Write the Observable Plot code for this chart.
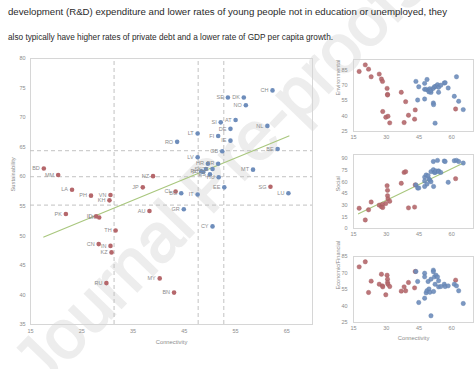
<!DOCTYPE html>
<html>
<head>
<meta charset="utf-8">
<script src="https://cdn.jsdelivr.net/npm/d3@7"></script>
<script src="https://cdn.jsdelivr.net/npm/@observablehq/plot@0.6"></script>
<style>
  html, body { margin: 0; padding: 0; background: #fff; }
  #root { position: relative; width: 474px; height: 369px; overflow: hidden; font-family: "Liberation Sans", Arial, sans-serif; }
  .abs { position: absolute; }
</style>
</head>
<body>
<div id="root"></div>
<script>
// ---------- data ----------
const titleLines = [
  "development (R&D) expenditure and lower rates of young people not in education or unemployed, they",
  "also typically have higher rates of private debt and a lower rate of GDP per capita growth."
];
const watermark = "Journal Pre-proofs";

const codes = ["BD","MM","PK","LA","PH","ID","CN","LK","RU","KH","VN","IN","KZ","TH","JP","AU","NZ","MY","BN","CL","SG",
  "RO","BG","GR","LT","LV","IT","PL","PT","SK","HR","ES","CY","CZ","FI","HU","FR","SI","GB","EE","SE","DE","IE","AT","DK","NO","MT","NL","CH","BE","LU"];
const groupOf = codes.map((c, i) => i < 21 ? "red" : "blue");

const connectivity = [17.6,20.4,21.9,23.1,26.8,27.8,28.3,28.4,29.8,30.4,30.6,30.6,30.8,31.6,36.9,38.2,38.9,40.2,43.0,43.3,61.8,
  43.6,44.4,44.9,47.6,47.6,47.6,48.3,48.7,49.2,49.6,50.0,50.5,50.5,51.6,51.7,51.6,52.1,52.4,52.8,53.5,54.0,54.0,55.0,56.6,57.0,58.4,61.2,62.2,63.2,65.3];
const sustainability = [61.4,60.3,53.7,57.8,56.8,53.3,48.6,53.1,42.0,56.0,56.9,48.3,47.2,50.9,58.2,54.2,60.1,42.8,40.4,57.5,58.3,
  65.9,57.2,54.5,67.3,63.3,57.0,60.9,60.8,61.3,62.2,60.4,51.6,61.3,66.9,59.9,62.2,69.2,64.3,58.2,73.4,68.1,66.1,69.6,73.4,72.1,61.2,68.6,74.6,64.7,57.2];
const environmental = [83.4,89.8,85.6,78.2,80.8,76.0,73.7,44.4,38.9,66.9,61.1,60.5,39.8,33.4,63.1,33.7,54.0,40.8,37.0,46.0,46.9,
  73.7,55.6,68.5,71.8,66.0,56.6,66.0,75.6,65.0,63.5,66.5,63.0,65.0,52.7,51.1,67.0,68.5,33.1,69.0,70.5,63.1,68.0,70.0,72.1,72.5,67.3,59.2,78.2,54.4,46.3];
const social = [26,11,24,34,30,28,31,27,32,55,49,42,38,35,58,72,73,26.5,27.5,56,64,
  56,52,52,66,54,61,68.7,57,67.8,63.5,62,60,73,86,54,75.5,72,72,74,87.4,74,73,72,86.6,86,59.3,87,87.5,86,84];
const economic = [75.6,80.2,52.3,62.6,59.8,68.9,58.3,57.4,50.2,68,64.4,61.4,59.8,57.7,53.5,57.4,53.8,61.4,56.5,71.4,63.5,
  71.4,62.3,43.2,69.8,66.5,47.1,52,54,62.3,55.5,52.5,31.1,64.4,72.6,53.2,71.1,66.5,59.8,68,66.5,62.9,57.4,57.7,59.8,57.7,58.3,59.8,58.3,53.8,42.3];

// reference lines and trend lines
const vLines = [31.3, 47.7, 52.7];
const hLines = [64.4, 60.0, 55.2];
const trendMainX = [17.6, 65.4], trendMainY = [49.8, 66.9];
const trendSocialX = [17.3, 65.4], trendSocialY = [18.8, 84.0];

const mainXTicks = [15,25,35,45,55,65];
const mainYTicks = [35,40,45,50,55,60,65,70,75,80];
const smallXTicks = [15,30,45,60];
const envTicks = [25,40,55,70,85];
const socTicks = [0,15,30,45,60,75,90];
const ecoTicks = [25,40,55,70,85];

// ---------- build ----------
const colors = {red: "#b5676b", blue: "#6e8dbb"};
const rows = codes.map((c, i) => ({code: c, g: groupOf[i], x: connectivity[i], s: sustainability[i],
  env: environmental[i], soc: social[i], eco: economic[i]}));
const trendMain = trendMainX.map((x, i) => ({x, y: trendMainY[i]}));
const trendSocial = trendSocialX.map((x, i) => ({x, y: trendSocialY[i]}));

const root = document.getElementById("root");
const FONT = "Liberation Sans, Arial, sans-serif";
const GRAY = "#8c8c8c";

// watermark (drawn underneath)
const ns = "http://www.w3.org/2000/svg";
const wm = document.createElementNS(ns, "svg");
wm.setAttribute("width", 474); wm.setAttribute("height", 369);
wm.setAttribute("class", "abs"); wm.style.left = "0px"; wm.style.top = "0px";
const wt = document.createElementNS(ns, "text");
wt.setAttribute("transform", "translate(42,390) rotate(-46)");
wt.setAttribute("font-family", FONT); wt.setAttribute("font-size", "68");
wt.setAttribute("fill", "#ededed"); wt.setAttribute("stroke", "#ededed"); wt.setAttribute("stroke-width", "2");
wt.textContent = watermark;
wm.appendChild(wt);
root.appendChild(wm);

// title lines
const tsvg = document.createElementNS(ns, "svg");
tsvg.setAttribute("width", 474); tsvg.setAttribute("height", 48);
tsvg.setAttribute("class", "abs"); tsvg.style.left = "0px"; tsvg.style.top = "0px";
[[14.5, 439], [39.5, 325]].forEach(([y, len], i) => {
  const t = document.createElementNS(ns, "text");
  t.setAttribute("x", 8); t.setAttribute("y", y);
  t.setAttribute("font-family", FONT); t.setAttribute("font-size", "9.6");
  t.setAttribute("fill", "#2a2a2a");
  t.setAttribute("textLength", len); t.setAttribute("lengthAdjust", "spacingAndGlyphs");
  t.textContent = titleLines[i];
  tsvg.appendChild(t);
});
root.appendChild(tsvg);

function place(el, left, top) {
  el.classList.add("abs");
  el.style.left = left + "px"; el.style.top = top + "px";
  root.appendChild(el);
}

const baseStyle = {fontFamily: FONT, fontSize: "5.5px", color: GRAY, background: "transparent", overflow: "visible"};

// main chart
const main = Plot.plot({
  width: 320, height: 369,
  marginLeft: 30, marginRight: 8, marginTop: 58, marginBottom: 45,
  style: {...baseStyle, overflow: "hidden"},
  x: {domain: [15, 70]},
  y: {domain: [35, 80]},
  marks: [
    Plot.frame({stroke: "#d6d6d6"}),
    Plot.ruleX(vLines, {y1: 35, y2: 80, stroke: "#c2c2c2", strokeDasharray: "4,3", strokeWidth: 1}),
    Plot.ruleY(hLines, {x1: 15, x2: 70, stroke: "#c2c2c2", strokeDasharray: "4,3", strokeWidth: 1}),
    Plot.line(trendMain, {x: "x", y: "y", stroke: "#a9c77e", strokeWidth: 1.2}),
    Plot.dot(rows, {x: "x", y: "s", r: 2.3, fill: d => colors[d.g], stroke: "none"}),
    Plot.text(rows, {x: "x", y: "s", text: "code", textAnchor: "end", dx: -4, fill: GRAY, fontSize: 5.5}),
    Plot.axisX(mainXTicks, {tickSize: 0, tickPadding: 5, label: null, fill: GRAY}),
    Plot.axisY(mainYTicks, {tickSize: 0, tickPadding: 5, label: null, fill: GRAY}),
    Plot.text(["Connectivity"], {frameAnchor: "bottom", dy: 19, fill: GRAY, fontSize: 5.8}),
    Plot.text(["Sustainability"], {frameAnchor: "left", dx: -17, rotate: -90, fill: GRAY, fontSize: 5.8})
  ]
});
place(main, 0, 0);

function small({top, height, mt, mb, yKey, domain, ticks, label, trend, xlabel}) {
  const marks = [
    Plot.frame({stroke: "#d6d6d6"}),
    Plot.dot(rows, {x: "x", y: yKey, r: 2.2, fill: d => colors[d.g], fillOpacity: 0.9, stroke: d => d.g === "red" ? "#a25a5e" : "#5d7dab", strokeWidth: 0.4}),
    Plot.axisX(smallXTicks, {tickSize: 0, tickPadding: 4, label: null, fill: GRAY}),
    Plot.axisY(ticks, {tickSize: 0, tickPadding: 6, label: null, fill: GRAY}),
    Plot.text([label], {frameAnchor: "left", dx: -15.5, rotate: -90, fill: GRAY, fontSize: 5.6})
  ];
  if (trend) marks.splice(1, 0, Plot.line(trend, {x: "x", y: "y", stroke: "#a9c77e", strokeWidth: 1.1}));
  if (xlabel) marks.push(Plot.text([xlabel], {frameAnchor: "bottom", dy: 17, fill: GRAY, fontSize: 5.8}));
  const p = Plot.plot({
    width: 174, height,
    marginLeft: 53, marginRight: 1, marginTop: mt, marginBottom: mb,
    style: baseStyle,
    x: {domain: [15, 70]},
    y: {domain},
    marks
  });
  place(p, 300, top);
}

small({top: 50, height: 100, mt: 9, mb: 19, yKey: "env", domain: [25, 95], ticks: envTicks, label: "Environmental"});
small({top: 145, height: 100, mt: 9, mb: 17, yKey: "soc", domain: [0, 95], ticks: socTicks, label: "Social", trend: trendSocial});
small({top: 240, height: 129, mt: 16, mb: 47, yKey: "eco", domain: [25, 85], ticks: ecoTicks, label: "Economic/Financial", xlabel: "Connectivity"});
</script>
</body>
</html>
